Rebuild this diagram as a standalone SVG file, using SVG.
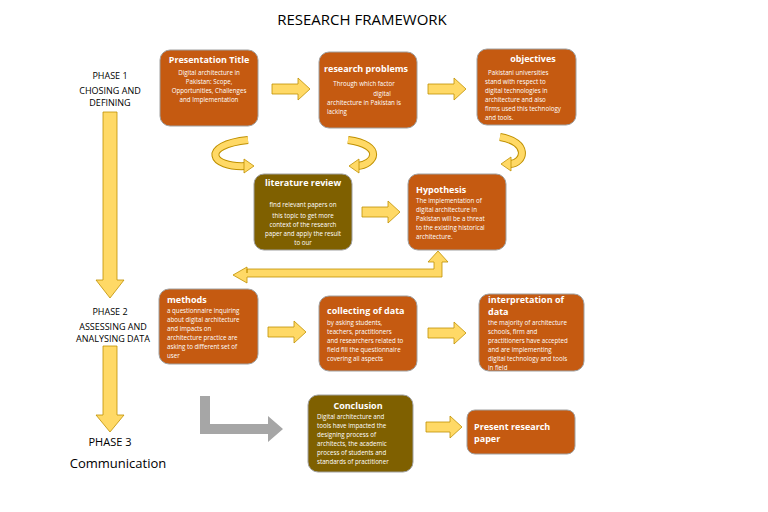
<svg xmlns="http://www.w3.org/2000/svg" width="768" height="512" viewBox="0 0 768 512">
<style>
text{font-family:"Open Sans","Liberation Sans",sans-serif}
.box{fill:#c55a11;stroke:#a0a0a0;stroke-width:1}
.olive{fill:#7f6000;stroke:#a0a0a0;stroke-width:1}
.h{fill:#fff;font-size:9px;font-weight:bold}
.t{fill:#fff;font-size:6.2px}
.lbl{fill:#000;font-size:9px}
.ya{fill:#ffd966;stroke:#bf9000;stroke-width:0.8}
.cu{fill:none;stroke:#bf9000;stroke-width:8}
.cy{fill:none;stroke:#ffd966;stroke-width:6}
</style>
<rect width="768" height="512" fill="#fff"/>
<text x="362" y="25" text-anchor="middle" style="font-size:15px;fill:#000">RESEARCH FRAMEWORK</text>
<g id="labels">
<text class="lbl" x="110" y="79" text-anchor="middle">PHASE 1</text>
<text class="lbl" x="110" y="94" text-anchor="middle">CHOSING AND</text>
<text class="lbl" x="110" y="106" text-anchor="middle">DEFINING</text>
<text class="lbl" x="110" y="315" text-anchor="middle">PHASE 2</text>
<text class="lbl" x="113" y="330" text-anchor="middle">ASSESSING AND</text>
<text class="lbl" x="113" y="342" text-anchor="middle">ANALYSING DATA</text>
<text x="110" y="446" text-anchor="middle" style="font-size:11px;fill:#000">PHASE 3</text>
<text x="118" y="468" text-anchor="middle" style="font-size:13px;fill:#000">Communication</text>
</g>
<g id="connectors">
<polygon class="ya" points="103,112 117,112 117,280 124,280 110,298 96,280 103,280"/>
<polygon class="ya" points="103,346 117,346 117,415 124,415 110,432 96,415 103,415"/>
<polygon class="ya" points="272,84 298,84 298,78 310,89 298,100 298,94 272,94"/>
<polygon class="ya" points="428,84 454,84 454,78 466,89 454,100 454,94 428,94"/>
<polygon class="ya" points="362,207 388,207 388,201 400,212 388,223 388,217 362,217"/>
<polygon class="ya" points="268,327 294,327 294,321 306,332 294,343 294,337 268,337"/>
<polygon class="ya" points="428,328 454,328 454,322 466,333 454,344 454,338 428,338"/>
<polygon class="ya" points="426,422 450,422 450,416 462,427 450,438 450,432 426,432"/>
<polygon points="200,396 210,396 210,424 268,424 268,416 283,429 268,442 268,434 200,434" fill="#a6a6a6"/>
<polygon class="ya" points="247,273 247,267 233,275 247,283 247,277 442,277 442,262 448,262 438,251 428,262 434,262 434,269 247,269" />
<path class="cu" d="M248,140 C200,145 210,168 246,166"/>
<path class="cy" d="M248,140 C200,145 210,168 246,166"/>
<polygon class="ya" points="244,159 254,166 244,173"/>
<path class="cu" d="M348,140 C385,145 375,165 357,166"/>
<path class="cy" d="M348,140 C385,145 375,165 357,166"/>
<polygon class="ya" points="359,159 349,166 359,173"/>
<path class="cu" d="M500,137 C530,142 525,163 510,164"/>
<path class="cy" d="M500,137 C530,142 525,163 510,164"/>
<polygon class="ya" points="511,157 501,164 511,171"/>
</g>
<g id="n1"><rect class="box" x="160" y="50" width="98" height="76" rx="10"/>
<text class="h" x="209" y="63" text-anchor="middle">Presentation Title</text>
<text class="t" text-anchor="middle"><tspan x="209" y="75">Digital architecture in</tspan><tspan x="209" y="84">Pakistan: Scope,</tspan><tspan x="209" y="93">Opportunities, Challenges</tspan><tspan x="209" y="102">and Implementation</tspan></text></g>
<g id="n2"><rect class="box" x="319" y="52" width="98" height="76" rx="10"/>
<text class="h" x="366" y="72" text-anchor="middle">research problems</text>
<text class="t" text-anchor="middle"><tspan x="364" y="86">Through which factor</tspan><tspan x="382" y="96">digital</tspan></text>
<text class="t"><tspan x="327" y="105">architecture in Pakistan is</tspan><tspan x="327" y="114">lacking</tspan></text></g>
<g id="n3"><rect class="box" x="477" y="49" width="99" height="76" rx="10"/>
<text class="h" x="533" y="62" text-anchor="middle">objectives</text>
<text class="t"><tspan x="488" y="75">Pakistani universities</tspan><tspan x="485" y="84">stand with respect to</tspan><tspan x="485" y="93">digital technologies in</tspan><tspan x="485" y="102">architecture and also</tspan><tspan x="485" y="111">firms used this technology</tspan><tspan x="485" y="120">and tools.</tspan></text></g>
<g id="n4"><rect class="olive" x="254" y="174" width="98" height="76" rx="10"/>
<text class="h" x="265" y="186">literature review</text>
<text class="t" text-anchor="middle"><tspan x="303" y="207">find relevant papers on</tspan><tspan x="303" y="218">this topic to get more</tspan><tspan x="303" y="227">context of the research</tspan><tspan x="303" y="236">paper and apply the result</tspan><tspan x="303" y="245">to our</tspan></text></g>
<g id="n5"><rect class="box" x="408" y="174" width="98" height="76" rx="10"/>
<text class="h" x="416" y="193">Hypothesis</text>
<text class="t"><tspan x="416" y="203">The implementation of</tspan><tspan x="416" y="212">digital architecture in</tspan><tspan x="416" y="221">Pakistan will be a threat</tspan><tspan x="416" y="230">to the existing historical</tspan><tspan x="416" y="239">architecture.</tspan></text></g>
<g id="n6"><rect class="box" x="159" y="289" width="99" height="75" rx="10"/>
<text class="h" x="167" y="303">methods</text>
<text class="t"><tspan x="167" y="313">a questionnaire inquiring</tspan><tspan x="167" y="322">about digital architecture</tspan><tspan x="167" y="331">and impacts on</tspan><tspan x="167" y="340">architecture practice are</tspan><tspan x="167" y="349">asking to different set of</tspan><tspan x="167" y="358">user</tspan></text></g>
<g id="n7"><rect class="box" x="319" y="296" width="98" height="75" rx="10"/>
<text class="h" x="327" y="314">collecting of data</text>
<text class="t"><tspan x="327" y="325">by asking students,</tspan><tspan x="327" y="334">teachers, practitioners</tspan><tspan x="327" y="343">and researchers related to</tspan><tspan x="327" y="352">field fill the questionnaire</tspan><tspan x="327" y="361">covering all aspects</tspan></text></g>
<g id="n8"><rect class="box" x="479" y="294" width="105" height="77" rx="10"/>
<text class="h"><tspan x="488" y="303">interpretation of</tspan><tspan x="488" y="315">data</tspan></text>
<text class="t"><tspan x="488" y="325">the majority of architecture</tspan><tspan x="488" y="334">schools, firm and</tspan><tspan x="488" y="343">practitioners have accepted</tspan><tspan x="488" y="352">and are implementing</tspan><tspan x="488" y="361">digital technology and tools</tspan><tspan x="488" y="370">in field</tspan></text></g>
<g id="n9"><rect class="olive" x="308" y="395" width="105" height="77" rx="10"/>
<text class="h" x="358" y="409" text-anchor="middle">Conclusion</text>
<text class="t"><tspan x="317" y="419">Digital architecture and</tspan><tspan x="317" y="428">tools have impacted the</tspan><tspan x="317" y="437">designing process of</tspan><tspan x="317" y="446">architects, the academic</tspan><tspan x="317" y="455">process of students and</tspan><tspan x="317" y="464">standards of practitioner</tspan></text></g>
<g id="n10"><rect class="box" x="467" y="410" width="108" height="44" rx="8"/>
<text class="h"><tspan x="474" y="430">Present research</tspan><tspan x="474" y="442">paper</tspan></text></g>
</svg>
